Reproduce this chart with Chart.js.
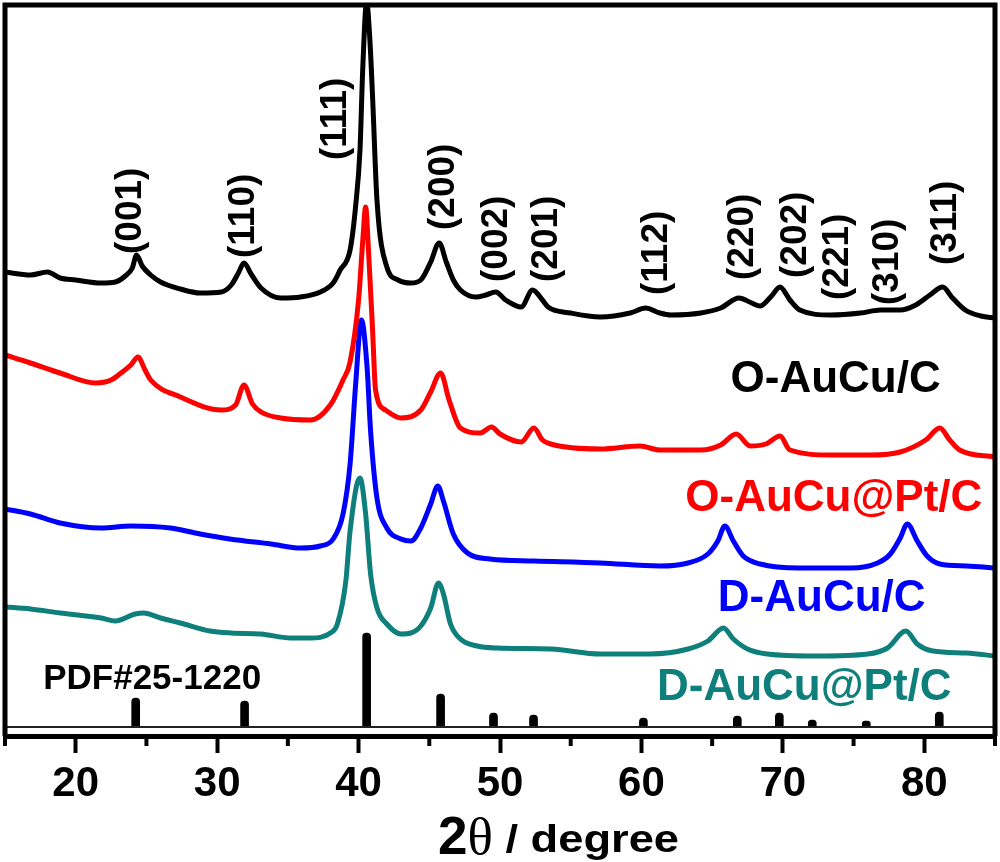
<!DOCTYPE html>
<html>
<head>
<meta charset="utf-8">
<script src="https://cdn.jsdelivr.net/npm/chart.js@4/dist/chart.umd.min.js"></script>
<style>
  body { margin: 0; background: #fff; }
</style>
</head>
<body>
<canvas id="myChart" width="1000" height="862"></canvas>
<script>
// XRD patterns, intensities in arbitrary units (offset stacked)
const oAuCuX = [15.0,16.8,18.0,18.9,20.0,21.8,22.8,23.5,24.0,24.3,24.7,25.3,26.0,27.4,28.8,30.3,31.0,31.5,31.9,32.4,33.1,34.5,35.9,37.3,38.2,38.7,39.4,39.8,40.1,40.3,40.57,40.8,41.0,41.3,42.0,42.8,43.7,44.4,45.1,45.7,46.2,46.7,47.2,48.3,49.0,49.7,50.4,51.5,52.3,53.0,53.4,55.0,57.1,59.2,60.3,61.3,62.1,64.2,65.6,66.9,67.8,68.4,69.2,69.8,70.5,71.2,73.4,75.5,76.9,78.3,79.4,80.4,81.3,82.0,82.9,84.0,85.0];
const oAuCuY = [468,465,468,462,460,457,458,464,472,485,474,465,458,451,447,448,455,467,477,466,452,442,443,448,457,470,490,535,590,673,738,700,640,540,473,460,457,460,478,497,478,460,450,443,445,448,440,433,450,440,433,427,423,427,432,427,425,427,432,442,437,434,444,453,440,430,425,427,430,430,435,445,453,442,430,424,422];

const oAuCuPtX = [15.0,16.8,18.9,21.4,22.5,23.2,23.9,24.4,24.9,25.3,27.4,30.3,31.3,31.9,32.5,33.1,34.5,36.6,38.0,38.9,39.4,40.0,40.3,40.5,40.7,41.0,41.2,41.9,43.0,44.4,45.1,45.8,46.4,47.2,48.6,49.4,50.0,51.5,52.4,53.0,53.6,57.1,59.9,61.3,64.2,65.6,66.7,67.7,68.8,69.8,70.5,73.4,76.2,78.3,80.1,81.1,81.8,82.5,85.0];
const oAuCuPtY = [385,377,367,357,360,367,375,383,370,360,343,330,335,355,336,328,322,320,335,360,378,440,500,533,490,407,350,330,322,330,348,367,340,312,307,313,306,298,312,300,296,291,294,290,290,295,306,294,296,304,290,285,285,288,300,312,300,290,283];

const dAuCuX = [15.0,16.8,18.9,21.8,23.9,26.7,28.8,30.9,33.8,35.9,37.3,38.2,38.9,39.4,39.8,40.2,40.6,40.85,41.3,42.0,43.0,43.7,44.4,45.1,45.6,46.0,46.7,47.7,49.3,52.4,57.1,61.3,63.3,64.7,65.4,65.9,66.5,67.2,68.4,71.2,74.8,76.7,77.6,78.3,78.8,79.5,80.2,81.1,83.0,85.0];
const dAuCuY = [231,226,217,212,214,212,206,201,196,192,194,201,226,276,357,420,373,309,242,212,201,199,212,236,254,239,206,187,181,179,177,174,177,186,199,214,199,184,176,172,172,177,186,202,216,199,184,176,174,172];

const dAuCuPtX = [15.0,16.8,18.9,21.8,22.8,24.2,24.8,26.0,27.4,29.5,31.0,33.1,35.2,36.6,38.0,38.5,39.1,39.4,40.1,40.5,40.85,41.3,42.0,43.0,43.7,44.4,45.1,45.65,46.0,46.5,47.2,48.4,49.8,53.6,57.1,60.6,63.3,64.7,65.8,66.5,67.5,68.9,72.4,76.0,77.4,78.7,79.5,80.6,83.0,85.0];
const dAuCuPtY = [133,131,127,122,119,126,127,122,117,109,107,106,102,102,107,116,159,209,262,226,166,132,116,106,107,114,132,157,146,116,101,94,92,91,86,86,91,99,112,101,91,86,84,86,92,109,96,89,87,84];

// PDF#25-1220 reference lines
const pdfBase = 13;
const pdfPos = [24.24,31.94,40.57,45.80,49.54,52.37,60.14,66.78,69.75,72.08,75.90,81.06];
const pdfHeight = [29,26,94,33,14,12,9,11,14,7,6,15];

// Miller index labels
const hklText = ['(001)','(110)','(111)','(200)','(002)','(201)','(112)','(220)','(202)','(221)','(310)','(311)'];
const hklPos = [23.9,31.9,38.4,46.0,49.75,53.3,61.1,67.2,70.9,73.9,77.4,81.5];
const hklBase = [486,482,580,510,458,458,445,460,462,440,435,475];

// sample names
const seriesNames = ['O-AuCu/C','O-AuCu@Pt/C','D-AuCu/C','D-AuCu@Pt/C','PDF#25-1220'];
const nameX = [66.3,63.1,65.4,61.1,17.7];
const nameY = [348,229,129,40,51];
const colors = ['#000000','#ff0000','#0000ff','#0e7f7b','#000000'];

const majorTicks = [20,30,40,50,60,70,80];
const minorTicks = [15,25,35,45,55,65,75,85];

const FONT = '"Liberation Sans", Arial, sans-serif';

function pts(xs, ys) { return xs.map((x, i) => ({x: x, y: ys[i]})); }

function curve(label, xs, ys, color) {
    return {
        type: 'line', label: label, data: pts(xs, ys),
        borderColor: color, borderWidth: 5, pointRadius: 0,
        cubicInterpolationMode: 'monotone', fill: false
    };
}

const textPlugin = {
    id: 'xrdText',
    afterDatasetsDraw(chart) {
        const c = chart.ctx, xs = chart.scales.x, ys = chart.scales.y, a = chart.chartArea;
        c.save();
        // frame (left, top, right)
        c.strokeStyle = '#000'; c.lineWidth = 5;
        c.beginPath();
        c.moveTo(a.left, a.bottom); c.lineTo(a.left, a.top);
        c.lineTo(a.right, a.top); c.lineTo(a.right, a.bottom);
        c.stroke();
        // minor ticks
        c.lineWidth = 4;
        minorTicks.forEach(v => {
            const px = xs.getPixelForValue(v);
            c.beginPath(); c.moveTo(px, a.bottom); c.lineTo(px, a.bottom + 10); c.stroke();
        });
        // hkl labels
        c.fillStyle = '#000';
        c.font = 'bold 37px ' + FONT;
        c.textAlign = 'left'; c.textBaseline = 'middle';
        hklText.forEach((t, i) => {
            c.save();
            c.translate(xs.getPixelForValue(hklPos[i]), ys.getPixelForValue(hklBase[i]));
            c.rotate(-Math.PI / 2);
            c.fillText(t, 0, 0);
            c.restore();
        });
        // series names
        c.textBaseline = 'alphabetic';
        seriesNames.forEach((t, i) => {
            c.font = (i === 4 ? 'bold 35px ' : 'bold 44px ') + FONT;
            c.fillStyle = colors[i];
            c.fillText(t, xs.getPixelForValue(nameX[i]), ys.getPixelForValue(nameY[i]));
        });
        // axis title: big "2", serif theta, wide "/ degree"
        let x0 = 438; const yb = 854;
        c.fillStyle = '#000';
        c.font = 'bold 53px ' + FONT;
        c.fillText('2', x0, yb); x0 += c.measureText('2').width;
        c.font = '53px "Liberation Serif", "DejaVu Serif", serif';
        c.fillText('θ', x0, yb); x0 += c.measureText('θ').width;
        c.font = 'bold 38px ' + FONT;
        const rest = ' / degree';
        const sx = (679 - x0) / c.measureText(rest).width;
        c.translate(x0, yb - 2);
        c.scale(sx, 1);
        c.fillText(rest, 0, 0);
        c.restore();
    }
};

const ctx = document.getElementById('myChart');

const data = {
    datasets: [
        curve(seriesNames[0], oAuCuX, oAuCuY, colors[0]),
        curve(seriesNames[1], oAuCuPtX, oAuCuPtY, colors[1]),
        curve(seriesNames[2], dAuCuX, dAuCuY, colors[2]),
        curve(seriesNames[3], dAuCuPtX, dAuCuPtY, colors[3]),
        {
            type: 'line', label: 'base',
            data: [{x: 15, y: pdfBase}, {x: 85, y: pdfBase}],
            borderColor: '#222', borderWidth: 2, pointRadius: 0
        },
        {
            type: 'bar', label: seriesNames[4],
            data: pdfPos.map((p, i) => ({x: p, y: [pdfBase, pdfBase + pdfHeight[i]]})),
            backgroundColor: '#000', barThickness: 8,
            borderRadius: {topLeft: 4, topRight: 4}, borderSkipped: 'start'
        }
    ]
};

const config = {
    type: 'line',
    data,
    options: {
        responsive: false,
        animation: false,
        layout: { padding: { left: 5, right: 5, top: 5 } },
        plugins: { legend: { display: false }, tooltip: { enabled: false } },
        scales: {
            x: {
                type: 'linear', min: 15, max: 85, offset: false,
                afterBuildTicks: s => { s.ticks = majorTicks.map(v => ({value: v})); },
                afterFit: s => { s.height = 126; },
                border: { display: true, width: 5, color: '#000' },
                grid: { offset: false, drawOnChartArea: false, drawTicks: true, tickLength: 17, tickWidth: 4, tickColor: '#000' },
                ticks: { color: '#000', font: { family: FONT, size: 42, weight: 'bold' }, padding: 6, maxRotation: 0 }
            },
            y: { display: false, min: 4, max: 735 }
        }
    },
    plugins: [textPlugin]
};

const Mychart = new Chart(ctx, config);
</script>
</body>
</html>
